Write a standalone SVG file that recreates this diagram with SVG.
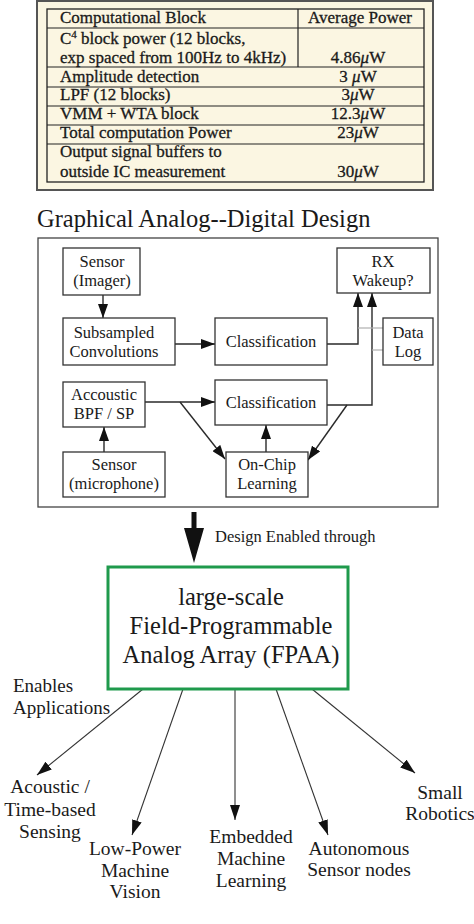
<svg xmlns="http://www.w3.org/2000/svg" width="474" height="924" viewBox="0 0 474 924">
<defs>
<style>
text{font-family:"Liberation Serif","Tinos","Times New Roman","DejaVu Serif","Noto Serif",serif;fill:#1a1a1a}
.tb{font-size:17px;stroke:#1a1a1a;stroke-width:0.3}
.val{font-size:17px;text-anchor:middle;stroke:#1a1a1a;stroke-width:0.3}
.lbl{font-size:16.5px;text-anchor:middle}
.app{font-size:19.5px;text-anchor:middle}
.box{fill:#fff;stroke:#333;stroke-width:1.3}
.ln{fill:none;stroke:#2a2a2a;stroke-width:1.4}
.gl{fill:none;stroke:#b0b0b0;stroke-width:1.2}
.al{fill:none;stroke:#333;stroke-width:1.1}
.rl{stroke:#222;stroke-width:1.2}
</style>
<marker id="ah" viewBox="0 0 14 10" refX="14" refY="5" markerWidth="14" markerHeight="10" orient="auto" markerUnits="userSpaceOnUse"><path d="M0,0 L14,5 L0,10 z" fill="#111"/></marker>
<marker id="ah2" viewBox="0 0 15 10" refX="15" refY="5" markerWidth="15" markerHeight="10" orient="auto" markerUnits="userSpaceOnUse"><path d="M0,0 L15,5 L0,10 z" fill="#111"/></marker>
</defs>
<rect width="474" height="924" fill="#fff"/>

<g id="power-table">
<rect x="37" y="1" width="396" height="189" fill="#fbf6e2" stroke="#555" stroke-width="2"/>
<rect x="47" y="9" width="377" height="173" fill="none" stroke="#222" stroke-width="1.3"/>
<line class="rl" x1="298" y1="9" x2="298" y2="67"/>
<line class="rl" x1="47" y1="28" x2="424" y2="28"/>
<line class="rl" x1="47" y1="67" x2="424" y2="67"/>
<line class="rl" x1="47" y1="87" x2="424" y2="87"/>
<line class="rl" x1="47" y1="106" x2="424" y2="106"/>
<line class="rl" x1="47" y1="125" x2="424" y2="125"/>
<line class="rl" x1="47" y1="144" x2="424" y2="144"/>
<text class="tb" x="60" y="23">Computational Block</text>
<text class="val" x="360" y="23">Average Power</text>
<text class="tb" x="60" y="44">C<tspan font-size="11" dy="-6">4</tspan><tspan dy="6"> block power (12 blocks,</tspan></text>
<text class="tb" x="60" y="63">exp spaced from 100Hz to 4kHz)</text>
<text class="val" x="358" y="63">4.86<tspan font-style="italic">μ</tspan>W</text>
<text class="tb" x="60" y="82">Amplitude detection</text>
<text class="val" x="358" y="82">3 <tspan font-style="italic">μ</tspan>W</text>
<text class="tb" x="60" y="100">LPF (12 blocks)</text>
<text class="val" x="358" y="100">3<tspan font-style="italic">μ</tspan>W</text>
<text class="tb" x="60" y="119">VMM + WTA block</text>
<text class="val" x="358" y="119">12.3<tspan font-style="italic">μ</tspan>W</text>
<text class="tb" x="60" y="138">Total computation Power</text>
<text class="val" x="358" y="138">23<tspan font-style="italic">μ</tspan>W</text>
<text class="tb" x="60" y="157">Output signal buffers to</text>
<text class="tb" x="60" y="177">outside IC measurement</text>
<text class="val" x="358" y="177">30<tspan font-style="italic">μ</tspan>W</text>
</g>

<g id="title">
<text x="37" y="227" font-size="24.5">Graphical Analog--Digital Design</text>
</g>
<g id="design-frame">
<rect x="38" y="238" width="400" height="269" fill="none" stroke="#444" stroke-width="1.3"/>
</g>

<g id="connectors">
<line class="ln" x1="103" y1="295" x2="103" y2="318" marker-end="url(#ah)"/>
<line class="ln" x1="175" y1="344" x2="215" y2="344" marker-end="url(#ah)"/>
<polyline class="ln" points="327,344 358,344 358,293" marker-end="url(#ah)"/>
<polyline class="ln" points="327,405 372,405 372,293" marker-end="url(#ah)"/>
<line class="gl" x1="358" y1="328" x2="383" y2="328"/>
<line class="gl" x1="372" y1="350" x2="383" y2="350"/>
<line class="ln" x1="145" y1="402" x2="215" y2="402" marker-end="url(#ah)"/>
<line class="ln" x1="180" y1="402" x2="225" y2="459" marker-end="url(#ah)"/>
<line class="ln" x1="347" y1="405" x2="308" y2="460" marker-end="url(#ah)"/>
<line class="ln" x1="266" y1="452" x2="266" y2="425" marker-end="url(#ah)"/>
<line class="ln" x1="104" y1="452" x2="104" y2="427" marker-end="url(#ah)"/>
<path d="M191.5,512 H196.5 V528 H204 L194,563 L184,528 H191.5 Z" fill="#111"/>
<line class="al" x1="143" y1="689" x2="37" y2="775" marker-end="url(#ah2)"/>
<line class="al" x1="183" y1="689" x2="132" y2="835" marker-end="url(#ah2)"/>
<line class="al" x1="235" y1="689" x2="235" y2="820" marker-end="url(#ah2)"/>
<line class="al" x1="276" y1="689" x2="328" y2="835" marker-end="url(#ah2)"/>
<line class="al" x1="312" y1="689" x2="415" y2="773" marker-end="url(#ah2)"/>
</g>

<g id="sensor-imager">
<rect class="box" x="63" y="248" width="77" height="47"/>
<text class="lbl" x="102" y="267">Sensor</text>
<text class="lbl" x="102" y="286">(Imager)</text>
</g>
<g id="rx-wakeup">
<rect class="box" x="337" y="248" width="93" height="45"/>
<text class="lbl" x="383" y="267">RX</text>
<text class="lbl" x="383" y="286">Wakeup?</text>
</g>
<g id="subsampled-conv">
<rect class="box" x="63" y="318" width="112" height="47"/>
<text class="lbl" x="114" y="338">Subsampled</text>
<text class="lbl" x="114" y="357">Convolutions</text>
</g>
<g id="classification-1">
<rect class="box" x="215" y="318" width="112" height="47"/>
<text class="lbl" x="271" y="347">Classification</text>
</g>
<g id="data-log">
<rect class="box" x="383" y="318" width="50" height="47"/>
<text class="lbl" x="408" y="338">Data</text>
<text class="lbl" x="408" y="357">Log</text>
</g>
<g id="acoustic-bpf">
<rect class="box" x="63" y="382" width="82" height="45"/>
<text class="lbl" x="104" y="400">Accoustic</text>
<text class="lbl" x="104" y="419">BPF / SP</text>
</g>
<g id="classification-2">
<rect class="box" x="215" y="380" width="112" height="45"/>
<text class="lbl" x="271" y="408">Classification</text>
</g>
<g id="sensor-mic">
<rect class="box" x="63" y="452" width="102" height="45"/>
<text class="lbl" x="114" y="470">Sensor</text>
<text class="lbl" x="114" y="489">(microphone)</text>
</g>
<g id="on-chip-learning">
<rect class="box" x="226" y="452" width="82" height="45"/>
<text class="lbl" x="267" y="470">On-Chip</text>
<text class="lbl" x="267" y="489">Learning</text>
</g>

<g id="design-label">
<text x="215" y="542" font-size="16.5">Design Enabled through</text>
</g>

<g id="fpaa">
<rect x="108" y="567" width="240" height="122" fill="#fff" stroke="#1f9a4c" stroke-width="3"/>
<text x="231" y="605" font-size="24.5" text-anchor="middle">large-scale</text>
<text x="231" y="634" font-size="24.5" text-anchor="middle">Field-Programmable</text>
<text x="231" y="663" font-size="24.5" text-anchor="middle">Analog Array (FPAA)</text>
</g>

<g id="enables-label">
<text x="13" y="692" font-size="19">Enables</text>
<text x="13" y="714" font-size="19">Applications</text>
</g>

<g id="app-acoustic">
<text class="app" x="50" y="793">Acoustic /</text>
<text class="app" x="50" y="816">Time-based</text>
<text class="app" x="50" y="838">Sensing</text>
</g>
<g id="app-vision">
<text class="app" x="135" y="855">Low-Power</text>
<text class="app" x="135" y="877">Machine</text>
<text class="app" x="135" y="898">Vision</text>
</g>
<g id="app-ml">
<text class="app" x="251" y="843">Embedded</text>
<text class="app" x="251" y="865">Machine</text>
<text class="app" x="251" y="887">Learning</text>
</g>
<g id="app-sensor-nodes">
<text class="app" x="359" y="855">Autonomous</text>
<text class="app" x="359" y="876">Sensor nodes</text>
</g>
<g id="app-robotics">
<text class="app" x="440" y="799">Small</text>
<text class="app" x="440" y="820">Robotics</text>
</g>
</svg>
